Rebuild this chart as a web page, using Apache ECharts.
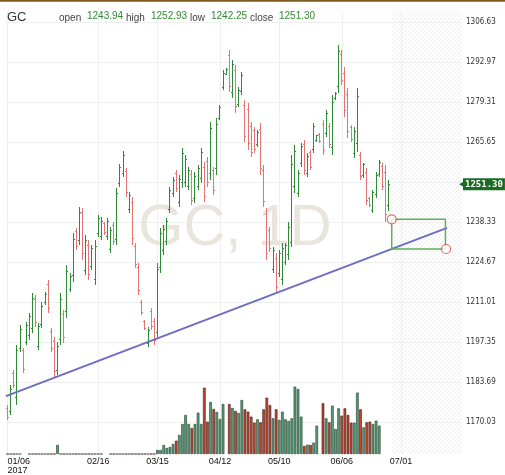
<!DOCTYPE html>
<html><head><meta charset="utf-8">
<script src="https://cdn.jsdelivr.net/npm/echarts@6/dist/echarts.min.js"></script>
<style>html,body{margin:0;padding:0;background:#fff}#c{width:505px;height:475px}</style>
</head><body><div id="c"></div>
<script>
// ---------------- data ----------------
const symbolName = 'GC';
const period = '1D';

// x-axis tick labels (category index -> text)
const tickIndex = [0, 29, 48, 68, 87, 107, 126];
const tickText = ['01/06\n2017', '02/16', '03/15', '04/12', '05/10', '06/06', '07/01'];

// y-axis grid values and labels
const yGrid = [1170.03, 1183.69, 1197.35, 1211.01, 1224.67, 1238.33, 1251.99, 1265.65, 1279.31, 1292.97, 1306.63];
const yLabels = [1170.03, 1183.69, 1197.35, 1211.01, 1224.67, 1238.33, 1265.65, 1279.31, 1292.97, 1306.63];

const open = [
1174.9,1173.8,1186.8,1178.5,1195.2,1194.6,1197.3,1199.5,1202.1,1212.0,
1195.9,1203.5,1210.8,1217.1,1201.0,1197.6,1187.7,1198.3,1206.8,1207.9,
1215.4,1220.1,1235.2,1232.2,1241.4,1222.0,1230.5,1223.2,1218.9,1234.4,
1233.5,1237.8,1233.4,1229.1,1237.3,1232.5,1251.5,1255.1,1255.6,1242.6,
1245.1,1230.1,1222.8,1211.0,1204.4,1196.8,1208.0,1204.3,1200.6,1222.8,
1228.6,1231.9,1242.8,1248.0,1255.1,1245.0,1251.9,1252.0,1250.5,1254.6,
1246.4,1250.6,1253.4,1257.1,1259.2,1255.1,1255.9,1256.6,1273.9,1284.4,
1288.9,1295.3,1282.5,1290.0,1278.6,1282.9,1278.3,1277.0,1271.1,1269.7,
1264.8,1270.0,1256.0,1241.0,1235.6,1222.2,1226.0,1220.9,1218.8,1224.7,
1227.2,1231.5,1250.4,1248.2,1258.3,1264.8,1254.9,1262.1,1263.3,1266.1,
1268.4,1271.7,1268.7,1271.1,1263.9,1280.5,1284.6,1295.6,1289.2,1282.0,
1270.8,1261.7,1265.1,1261.1,1254.2,1255.2,1246.5,1242.5,1247.8,1254.6,
1257.4,1255.4,1243.94];
const high = [
1175.9,1182.8,1187.9,1196.4,1203.3,1195.4,1204.3,1207.4,1214.2,1213.5,
1204.0,1211.1,1214.5,1218.6,1202.2,1199.2,1197.5,1214.2,1208.4,1223.7,
1221.0,1234.7,1236.4,1243.5,1243.2,1234.0,1232.3,1230.6,1232.3,1240.8,
1240.1,1238.4,1239.8,1236.7,1238.4,1250.0,1258.2,1262.7,1256.9,1248.7,
1247.0,1231.3,1224.4,1211.8,1205.0,1202.6,1209.1,1205.7,1224.4,1236.4,
1237.4,1239.8,1250.4,1253.8,1256.2,1254.5,1263.7,1261.3,1257.2,1256.2,
1255.5,1257.9,1263.7,1258.9,1260.6,1272.6,1257.2,1273.9,1278.4,1290.3,
1291.0,1297.2,1293.8,1292.1,1284.5,1289.7,1280.1,1279.1,1272.6,1270.9,
1269.9,1272.2,1257.9,1243.2,1236.7,1229.9,1227.8,1228.9,1231.3,1231.3,
1238.4,1261.3,1264.7,1256.2,1265.4,1266.4,1262.0,1263.0,1272.2,1268.1,
1268.8,1273.3,1276.7,1272.2,1281.8,1282.8,1298.9,1297.2,1291.4,1284.2,
1271.6,1270.9,1284.2,1262.3,1258.6,1256.9,1247.0,1249.4,1255.5,1259.6,
1258.6,1257.9,1252.93];
const low = [
1170.8,1172.5,1181.7,1175.9,1194.0,1186.9,1196.4,1198.2,1200.5,1202.6,
1194.7,1202.2,1210.1,1207.4,1194.0,1185.2,1186.2,1196.4,1197.1,1205.6,
1214.5,1218.0,1228.9,1230.6,1225.5,1220.3,1218.6,1222.0,1216.9,1233.3,
1232.3,1234.0,1232.3,1227.8,1230.6,1230.6,1250.4,1253.8,1247.0,1241.5,
1230.6,1222.7,1213.5,1206.7,1201.6,1195.7,1201.6,1196.4,1199.2,1221.0,
1227.2,1230.6,1241.5,1247.0,1248.7,1243.5,1250.0,1250.4,1249.4,1244.2,
1244.9,1249.4,1251.8,1245.3,1250.4,1252.8,1247.7,1254.5,1273.2,1283.5,
1288.6,1282.8,1280.8,1275.7,1277.7,1281.8,1265.8,1263.0,1260.6,1262.0,
1264.0,1254.5,1243.5,1225.5,1228.2,1221.0,1214.2,1219.7,1216.9,1223.7,
1225.5,1229.9,1248.3,1247.0,1257.2,1254.5,1253.8,1256.2,1262.0,1265.8,
1265.4,1261.3,1267.5,1263.7,1261.3,1280.1,1282.5,1285.2,1274.3,1267.1,
1265.8,1260.3,1262.3,1252.8,1253.5,1244.2,1243.5,1241.5,1246.6,1253.8,
1249.4,1238.4,1242.25];
const close = [
1171.6,1181.2,1182.6,1194.6,1201.8,1188.1,1203.1,1206.0,1212.4,1204.1,
1202.6,1209.7,1213.6,1208.9,1195.3,1187.4,1195.8,1211.9,1198.9,1221.4,
1219.8,1232.5,1230.0,1241.8,1227.6,1232.1,1220.4,1229.3,1230.1,1239.6,
1238.7,1234.7,1238.6,1235.5,1231.8,1248.2,1257.0,1261.2,1248.4,1247.6,
1232.7,1224.0,1215.2,1207.5,1202.2,1201.5,1202.8,1197.8,1222.1,1234.6,
1236.0,1238.5,1249.1,1252.7,1249.8,1253.0,1261.8,1259.7,1256.1,1245.9,
1254.0,1256.7,1262.0,1247.2,1251.8,1270.4,1249.1,1271.8,1277.6,1289.2,
1290.6,1284.6,1292.1,1277.8,1283.4,1288.5,1267.6,1265.1,1262.2,1263.2,
1269.0,1256.8,1245.4,1227.8,1229.3,1228.7,1216.0,1227.7,1229.4,1230.3,
1236.7,1258.2,1262.5,1255.0,1264.3,1256.1,1260.9,1257.1,1270.9,1267.8,
1265.9,1262.9,1275.5,1264.8,1279.2,1282.4,1296.8,1286.8,1276.5,1269.3,
1266.6,1269.5,1281.4,1254.0,1257.9,1245.9,1244.0,1248.4,1254.3,1258.8,
1250.6,1240.9,1251.30];
const volume = [
0,0,0,0,0,null,null,0,0,0,
0,0,0,0,0,0,54000,0,0,0,
0,0,0,0,0,0,0,0,0,0,
0,null,null,0,0,0,0,0,0,0,
0,0,0,0,0,0,0,0,24000,24000,
54000,36000,42000,60000,80000,114000,180000,234000,180000,156000,
180000,248000,180000,398000,194000,312000,270000,252000,210000,300000,
null,300000,276000,258000,246000,324000,268000,254000,224000,188000,
208000,190000,268000,338000,294000,214000,268000,204000,254000,208000,
198000,214000,404000,390000,224000,48000,56000,54000,68000,170000,
null,304000,214000,190000,290000,150000,274000,230000,274000,234000,
188000,188000,368000,268000,160000,190000,194000,180000,200000,170000,
null,null,null];

// drawing tools (x in bar index, y in price)
const trendLine = [[-0.5, 1178.95], [140.7, 1236.4]];
const rangeBox = [[123, 1239.35], [140.2, 1239.35], [140.2, 1229.2], [123, 1229.2], [123, 1239.35]];
const rangeDots = [[123, 1239.35], [140.4, 1229.2]];
const futureStart = 123;

// ---------------- layout / style ----------------
const N_CATS = 146;
const Y_MIN = 1159.19, Y_MAX = 1310.49;
const VOL_MAX = 2658000;
const UP = '#2f8a35', DOWN = '#e57373';
const VUP = '#5a9e78', VUP_B = '#1f3d2c', VDN = '#c4472f', VDN_B = '#3d1710';
const GRIDC = '#efefef';
const TAG = '#1b6b25';

// weekday categories starting 2017-01-06
const categories = [];
(function () {
  const d = new Date(2017, 0, 6);
  while (categories.length < N_CATS) {
    const wd = d.getDay();
    if (wd !== 0 && wd !== 6) {
      categories.push(String(d.getMonth() + 1).padStart(2, '0') + '/' + String(d.getDate()).padStart(2, '0'));
    }
    d.setDate(d.getDate() + 1);
  }
})();

const ohlcData = open.map((o, i) => [i, o, close[i], low[i], high[i]]);
const volData = volume.map((v, i) => v == null ? '-' : {
  value: v,
  itemStyle: close[i] >= open[i] ? { color: VUP, borderColor: VUP_B } : { color: VDN, borderColor: VDN_B }
});
const last = open.length - 1;

function renderOHLC(params, api) {
  const i = api.value(0);
  const o = api.value(1), c = api.value(2), l = api.value(3), h = api.value(4);
  const pt = api.coord([i, h]), pb = api.coord([i, l]);
  const po = api.coord([i, o]), pc = api.coord([i, c]);
  const x = Math.round(pt[0] - 0.5);
  const yt = Math.round(pt[1]), yb = Math.round(pb[1]);
  const col = c >= o ? UP : DOWN;
  const st = { fill: col };
  return {
    type: 'group',
    children: [
      { type: 'rect', shape: { x: x, y: yt, width: 1, height: Math.max(1, yb - yt) }, style: st },
      { type: 'rect', shape: { x: x - 1, y: Math.round(po[1] - 0.5), width: 1, height: 1 }, style: st },
      { type: 'rect', shape: { x: x + 1, y: Math.round(pc[1] - 0.5), width: 1, height: 1 }, style: st }
    ]
  };
}

// hatch pattern for the future area
const pat = document.createElement('canvas');
pat.width = 4; pat.height = 4;
(function () {
  const g = pat.getContext('2d');
  g.strokeStyle = '#ececec'; g.lineWidth = 0.8;
  g.beginPath();
  g.moveTo(0, 4); g.lineTo(4, 0);
  g.moveTo(-1, 1); g.lineTo(1, -1);
  g.moveTo(3, 5); g.lineTo(5, 3);
  g.stroke();
})();

const chart = echarts.init(document.getElementById('c'), null, { renderer: 'canvas' });
const fmt = v => v.toFixed(2);
const headFont = '"Liberation Sans", Arial, sans-serif';

const option = {
  animation: false,
  backgroundColor: '#fff',
  grid: { left: 6, right: 43, top: 11, bottom: 21, containLabel: false },
  xAxis: [
    {
      type: 'category', data: categories, boundaryGap: true, gridIndex: 0,
      axisLine: { show: false }, axisTick: { show: false },
      axisLabel: {
        interval: (i) => tickIndex.indexOf(i) >= 0,
        formatter: (v, i) => { const k = tickIndex.indexOf(i); return k >= 0 ? tickText[k] : ''; },
        color: '#111', fontSize: 9, lineHeight: 9, margin: 3, fontFamily: headFont,
        alignMinLabel: 'left'
      },
      splitLine: {
        show: true, alignWithLabel: true,
        interval: (i) => tickIndex.indexOf(i) >= 0,
        lineStyle: { color: GRIDC, width: 1 }
      }
    },
    { type: 'value', min: -0.5, max: N_CATS - 0.5, show: false, gridIndex: 0 }
  ],
  yAxis: [
    {
      type: 'value', position: 'right', min: Y_MIN, max: Y_MAX, gridIndex: 0,
      axisLine: { show: false },
      axisTick: { show: false, customValues: yGrid },
      axisLabel: {
        customValues: yLabels, formatter: fmt, margin: 4, color: '#333', fontSize: 8,
        fontFamily: '"Liberation Sans Narrow", "Arial Narrow", "DejaVu Sans Condensed", sans-serif'
      },
      splitLine: { show: true, lineStyle: { color: GRIDC, width: 1 } }
    },
    { type: 'value', min: 0, max: VOL_MAX, show: false, gridIndex: 0, splitLine: { show: false } }
  ],
  series: [
    {
      name: 'volume', type: 'bar', xAxisIndex: 0, yAxisIndex: 1, data: volData,
      barWidth: 2.6, itemStyle: { borderWidth: 0.6 }, z: 2, silent: true
    },
    {
      name: 'price', type: 'custom', xAxisIndex: 0, yAxisIndex: 0, data: ohlcData,
      encode: { x: 0, y: [1, 2, 3, 4] }, renderItem: renderOHLC, z: 3, silent: true
    },
    {
      name: 'trend', type: 'line', xAxisIndex: 1, yAxisIndex: 0, data: trendLine,
      symbol: 'none', lineStyle: { color: '#6d6dc2', width: 2 }, z: 4, silent: true,
      markArea: {
        silent: true,
        itemStyle: { color: { image: pat, repeat: 'repeat' } },
        data: [[{ xAxis: futureStart }, { xAxis: N_CATS - 0.5 }]]
      },
      markLine: {
        silent: true, symbol: ['none', 'none'], animation: false,
        lineStyle: { color: 'rgba(0,0,0,0)', width: 1, type: 'solid' },
        label: {
          show: true, position: 'end', distance: 1, formatter: fmt(close[last]),
          color: '#fff', backgroundColor: TAG, padding: [2, 2, 1, 2],
          fontSize: 9, fontWeight: 'bold', fontFamily: '"DejaVu Sans Mono", monospace'
        },
        data: [{ yAxis: close[last] }]
      },
      markPoint: {
        silent: true,
        data: [{ coord: [N_CATS - 0.6, close[last]], symbol: 'triangle', symbolSize: [6, 5], symbolRotate: 90, itemStyle: { color: TAG }, label: { show: false } }]
      }
    },
    {
      name: 'range', type: 'line', xAxisIndex: 1, yAxisIndex: 0, data: rangeBox,
      symbol: 'none', lineStyle: { color: '#5cb05c', width: 1.5 }, z: 5, silent: true
    },
    {
      name: 'rangeDots', type: 'scatter', xAxisIndex: 1, yAxisIndex: 0, data: rangeDots,
      symbol: 'circle', symbolSize: 9,
      itemStyle: { color: '#fff', borderColor: '#e04545', borderWidth: 1.2 }, z: 6, silent: true
    }
  ],
  graphic: [
    { type: 'rect', z: 20, shape: { x: 0, y: 0, width: 505, height: 1.7 }, style: { fill: '#7d5c22' } },
    { type: 'text', z: 1, silent: true, style: { text: symbolName + ', ' + period, x: 235, y: 229, textAlign: 'center', textVerticalAlign: 'middle', font: '58px "Liberation Sans", Arial, sans-serif', fill: '#e9e5dc' } },
    { type: 'text', z: 20, style: { text: symbolName, x: 7, y: 17.5, textVerticalAlign: 'middle', font: '13px ' + headFont, fill: '#333' } },
    { type: 'text', z: 20, style: { text: 'open', x: 59, y: 18.5, textVerticalAlign: 'middle', font: '10px ' + headFont, fill: '#444' } },
    { type: 'text', z: 20, style: { text: fmt(open[last]), x: 87, y: 16.5, textVerticalAlign: 'middle', font: '10px ' + headFont, fill: '#338833' } },
    { type: 'text', z: 20, style: { text: 'high', x: 126, y: 18.5, textVerticalAlign: 'middle', font: '10px ' + headFont, fill: '#444' } },
    { type: 'text', z: 20, style: { text: fmt(high[last]), x: 151, y: 16.5, textVerticalAlign: 'middle', font: '10px ' + headFont, fill: '#338833' } },
    { type: 'text', z: 20, style: { text: 'low', x: 190, y: 18.5, textVerticalAlign: 'middle', font: '10px ' + headFont, fill: '#444' } },
    { type: 'text', z: 20, style: { text: fmt(low[last]), x: 211, y: 16.5, textVerticalAlign: 'middle', font: '10px ' + headFont, fill: '#338833' } },
    { type: 'text', z: 20, style: { text: 'close', x: 250, y: 18.5, textVerticalAlign: 'middle', font: '10px ' + headFont, fill: '#444' } },
    { type: 'text', z: 20, style: { text: fmt(close[last]), x: 279, y: 16.5, textVerticalAlign: 'middle', font: '10px ' + headFont, fill: '#338833' } }
  ]
};
chart.setOption(option);
</script></body></html>
